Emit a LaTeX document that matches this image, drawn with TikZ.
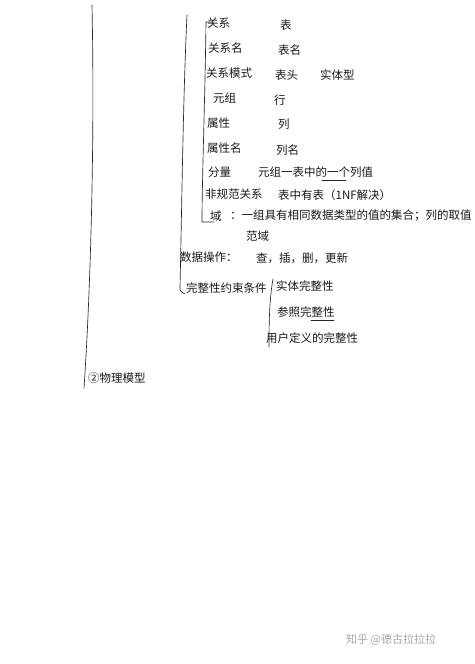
\documentclass[tikz,border=0pt]{standalone}
\usepackage{fontspec}
\newfontfamily\cjk{Noto Sans CJK SC}
\begin{document}
\begin{tikzpicture}[x=1pt,y=-1pt,
  txt/.style={font=\cjk\fontsize{11.5}{12}\selectfont, anchor=west, inner sep=0pt, text=black!90},
  ink/.style={line width=0.65pt, draw=black!85, line cap=round},
  wmark/.style={font=\cjk\fontsize{11}{12}\selectfont, anchor=west, inner sep=0pt, text=black!35}]
\useasboundingbox (0,0) rectangle (474,664);
\fill[white] (0,0) rectangle (474,664);
% main vertical strokes
\coordinate (a1) at (92,5);
\coordinate (a2) at (84,388);
\draw[ink] (a1) .. controls (95,150) and (90,300) .. (a2);
\coordinate (b1) at (187,15);
\coordinate (b2) at (180,287);
\coordinate (b3) at (185,294);
\draw[ink] (b1) .. controls (183,100) and (182,200) .. (b2) .. controls (180,291) .. (b3);
\coordinate (c0) at (213,22);
\coordinate (c1) at (206,22);
\coordinate (c2) at (202,222);
\coordinate (c3) at (214,222);
\draw[ink] (c0) -- (c1) .. controls (205,100) and (202,180) .. (c2) -- (c3);
\coordinate (d1) at (273,279);
\coordinate (d2) at (269,347);
\draw[ink] (d1) .. controls (269,300) and (269,330) .. (d2);
% left column
\node[txt] (k1) at (207,23) {关系};
\node[txt] (k2) at (208,48) {关系名};
\node[txt] (k3) at (206,73) {关系模式};
\node[txt] (k4) at (213,98) {元组};
\node[txt] (k5) at (207,123) {属性};
\node[txt] (k6) at (207,148) {属性名};
\node[txt] (k7) at (208,172) {分量};
\node[txt] (k8) at (205,194) {非规范关系};
\node[txt] (k9) at (210,216) {域};
% right column
\node[txt] (v1) at (280,25) {表};
\node[txt] (v2) at (278,50) {表名};
\node[txt] (v3) at (275,75) {表头};
\node[txt] (v3b) at (320,75) {实体型};
\node[txt] (v4) at (274,100) {行};
\node[txt] (v5) at (278,124) {列};
\node[txt] (v6) at (276,150) {列名};
\node[txt] (v7) at (258,172) {元组一表中的一个列值};
\draw[ink] (322,180) -- (346,180);
\node[txt] (v8) at (278,195) {表中有表（1NF解决）};
\node[txt] (v9) at (230,216) {：一组具有相同数据类型的值的集合；列的取值};
\node[txt] (v9b) at (246,236) {范域};
% data operations
\node[txt] (op) at (180,257) {数据操作：};
\node[txt] (opv) at (256,258) {查，插，删，更新};
% integrity
\node[txt] (ic) at (186,288) {完整性约束条件};
\node[txt] (i1) at (276,286) {实体完整性};
\node[txt] (i2) at (277,312) {参照完整性};
\draw[ink] (311,320) -- (334,320);
\node[txt] (i3) at (266,338) {用户定义的完整性};
% physical model
\node[txt] (pm) at (88,378) {②物理模型};
% watermark
\node[wmark] (wm) at (346,640) {知乎 @德古拉拉拉};
\end{tikzpicture}
\end{document}
